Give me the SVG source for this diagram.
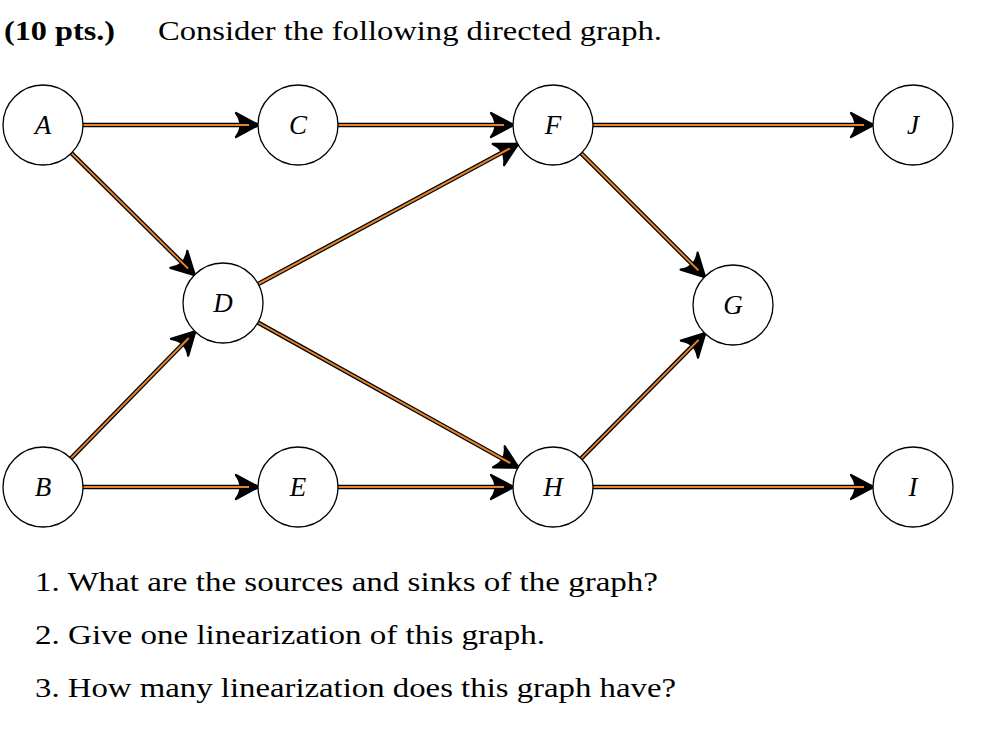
<svg xmlns="http://www.w3.org/2000/svg" width="982" height="730" viewBox="0 0 982 730">
<style>
text{font-family:"Liberation Serif","Times New Roman",serif;fill:#000}
.t{font-size:28px}
.n circle{fill:#fff;stroke:#000;stroke-width:1.3}
.n text{font-size:27px;font-style:italic;text-anchor:middle}
.b{stroke:#000;stroke-width:4.5;fill:none}
.o{stroke:#e8832a;stroke-width:2;fill:none}
</style>
<defs>
<marker id="ah" markerUnits="userSpaceOnUse" markerWidth="30" markerHeight="30" viewBox="-16 -10 20 20" refX="0" refY="0" orient="auto">
<path d="M1,0 L-14,-8 Q-8,0 -14,8 Z" fill="#000" stroke="#000" stroke-width="1.5" stroke-linejoin="round"/>
</marker>
</defs>
<rect width="982" height="730" fill="#fff"/>
<text class="t" x="4" y="40" font-weight="bold" textLength="111" lengthAdjust="spacingAndGlyphs">(10 pts.)</text>
<text class="t" x="158" y="40" textLength="504" lengthAdjust="spacingAndGlyphs">Consider the following directed graph.</text>
<g id="connectors">
<g marker-end="url(#ah)" class="b">
<line x1="83" y1="125" x2="257" y2="125"/>
<line x1="338" y1="125" x2="512" y2="125"/>
<line x1="593" y1="125" x2="872" y2="125"/>
<line x1="83" y1="487" x2="257" y2="487"/>
<line x1="338" y1="487" x2="512" y2="487"/>
<line x1="593" y1="487" x2="872" y2="487"/>
<line x1="71.4" y1="153.1" x2="193.8" y2="274.2"/>
<line x1="71" y1="458.4" x2="194.3" y2="332.3"/>
<line x1="258.2" y1="284" x2="516.9" y2="144.5"/>
<line x1="257.9" y1="322.5" x2="517.2" y2="467"/>
<line x1="581.3" y1="153.3" x2="704" y2="276"/>
<line x1="581.1" y1="458.6" x2="704.2" y2="334.2"/>
</g>
<g class="o">
<line x1="83" y1="125" x2="249" y2="125"/>
<line x1="338" y1="125" x2="504" y2="125"/>
<line x1="593" y1="125" x2="864" y2="125"/>
<line x1="83" y1="487" x2="249" y2="487"/>
<line x1="338" y1="487" x2="504" y2="487"/>
<line x1="593" y1="487" x2="864" y2="487"/>
<line x1="71.4" y1="153.1" x2="188.1" y2="268.6"/>
<line x1="71" y1="458.4" x2="188.7" y2="338"/>
<line x1="258.2" y1="284" x2="509.9" y2="148.3"/>
<line x1="257.9" y1="322.5" x2="510.2" y2="463.1"/>
<line x1="581.3" y1="153.3" x2="698.4" y2="270.4"/>
<line x1="581.1" y1="458.6" x2="698.6" y2="339.9"/>
</g>
</g>
<g id="A" class="n"><circle cx="43" cy="125" r="40"/><text x="43" y="134">A</text></g>
<g id="C" class="n"><circle cx="298" cy="125" r="40"/><text x="298" y="134">C</text></g>
<g id="F" class="n"><circle cx="553" cy="125" r="40"/><text x="553" y="134">F</text></g>
<g id="J" class="n"><circle cx="913" cy="125" r="40"/><text x="913" y="134">J</text></g>
<g id="D" class="n"><circle cx="223" cy="303" r="40"/><text x="223" y="312">D</text></g>
<g id="G" class="n"><circle cx="733" cy="305" r="40"/><text x="733" y="314">G</text></g>
<g id="B" class="n"><circle cx="43" cy="487" r="40"/><text x="43" y="496">B</text></g>
<g id="E" class="n"><circle cx="298" cy="487" r="40"/><text x="298" y="496">E</text></g>
<g id="H" class="n"><circle cx="553" cy="487" r="40"/><text x="553" y="496">H</text></g>
<g id="I" class="n"><circle cx="913" cy="487" r="40"/><text x="913" y="496">I</text></g>
<text class="t" x="35" y="591" textLength="623" lengthAdjust="spacingAndGlyphs">1.  What are the sources and sinks of the graph?</text>
<text class="t" x="35" y="644" textLength="510" lengthAdjust="spacingAndGlyphs">2.  Give one linearization of this graph.</text>
<text class="t" x="35" y="697" textLength="641" lengthAdjust="spacingAndGlyphs">3.  How many linearization does this graph have?</text>
</svg>
